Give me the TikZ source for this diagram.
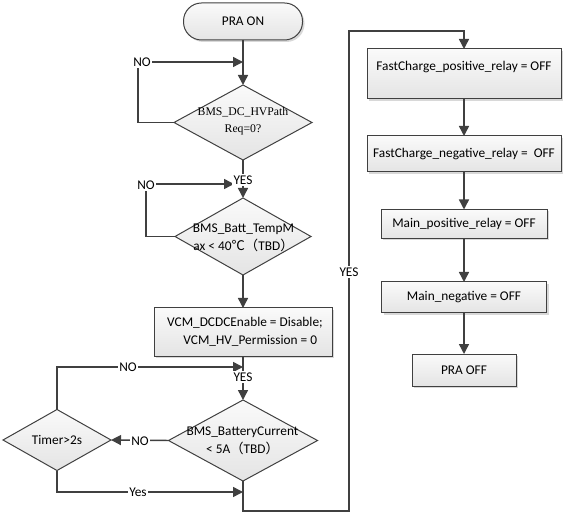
\documentclass[tikz,border=0pt]{standalone}
\usepackage{fontspec}
\setmainfont{Carlito}
\newfontfamily\seriffont{Liberation Serif}
\newfontfamily\cjkfont{Noto Sans CJK SC}
\usetikzlibrary{shapes.geometric,shadows,arrows.meta}
\definecolor{ln}{HTML}{404040}
\definecolor{ftop}{HTML}{FAFAFA}
\definecolor{fbot}{HTML}{E4E4E4}
\def\pxl{*0.75pt}
\begin{document}
\begin{tikzpicture}[x=0.75pt,y=-0.75pt,
  conn/.style={draw=ln, line width=1.1pt},
  arr/.style={conn, -{Triangle[length=7.5pt,width=7.5pt]}},
  shapebase/.style={draw=ln, line width=0.75pt, top color=ftop, bottom color=fbot, inner sep=0pt, outer sep=0pt},
  box/.style={shapebase, rectangle, drop shadow={shadow xshift=1.5pt, shadow yshift=-1.5pt, opacity=0.3}},
  term/.style={box, rounded corners=13.5pt},
  dia/.style={shapebase, diamond},
  txt/.style={font=\fontsize{10}{13.5}\selectfont, align=center, inner sep=0pt},
  stxt/.style={font=\seriffont\fontsize{8.8}{12.5}\selectfont, align=center, inner sep=0pt},
  lbl/.style={fill=white, inner sep=1pt, font=\fontsize{10}{11}\selectfont}
]
\useasboundingbox (0,0) rectangle (567,516);
\fill[white] (0,0) rectangle (567,516);

% nodes
\node[term, minimum width=119\pxl, minimum height=37\pxl] (t1) at (243,21.5) {};
\node[txt] at (t1) {PRA ON};

\node[dia, minimum width=138\pxl, minimum height=75\pxl] (d1) at (243,122.5) {};
\node[stxt] at (243,121.5) {BMS\_DC\_HVPath\\Req=0?};

\node[dia, minimum width=136\pxl, minimum height=77\pxl] (d2) at (243,236.5) {};
\node[txt] at (243.5,238) {BMS\_Batt\_TempM\\ax < 40{\cjkfont ℃（}TBD{\cjkfont ）}};

\node[box, minimum width=178\pxl, minimum height=48\pxl] (vcm) at (243,332) {};
\node[txt] at (245,332) {VCM\_DCDCEnable = Disable;\\\hspace*{8pt}VCM\_HV\_Permission = 0};

\node[dia, minimum width=149\pxl, minimum height=81\pxl] (d3) at (243,440.5) {};
\node[txt] at (242.5,441) {BMS\_BatteryCurrent\\< 5A{\cjkfont （}TBD{\cjkfont ）}};

\node[dia, minimum width=108\pxl, minimum height=61\pxl] (timer) at (57,440) {};
\node[txt] at (timer) {Timer>2s};

\node[box, minimum width=194\pxl, minimum height=50\pxl] (b1) at (464,74) {};
\node[txt] at (464,67) {FastCharge\_positive\_relay = OFF};

\node[box, minimum width=194\pxl, minimum height=36\pxl] (b2) at (464,154) {};
\node[txt] at (b2) {FastCharge\_negative\_relay =\ \ OFF};

\node[box, minimum width=166\pxl, minimum height=29\pxl] (b3) at (464,224) {};
\node[txt] at (b3) {Main\_positive\_relay = OFF};

\node[box, minimum width=165\pxl, minimum height=31\pxl] (b4) at (464,297.5) {};
\node[txt] at (b4) {Main\_negative = OFF};

\node[box, minimum width=104\pxl, minimum height=32\pxl] (b5) at (464,370) {};
\node[txt] at (b5) {PRA OFF};

% coordinates
\coordinate (c1) at (138,62);  \coordinate (j1) at (243,62);
\coordinate (c2) at (146,184); \coordinate (j2) at (234,184);
\coordinate (c3) at (57,367);  \coordinate (j3) at (243,367);
\coordinate (c4) at (57,492);  \coordinate (j4) at (243,492);
\coordinate (c5) at (243,511); \coordinate (c6) at (349,511);
\coordinate (c7) at (349,31);  \coordinate (c8) at (464,31);

% connectors
\draw[arr] (t1.south) -- (d1.north);
\draw[arr] (d1.west) -| (c1) -- (j1);
\draw[arr] (d1.south) -- (d2.north);
\draw[arr] (d2.west) -| (c2) -- (j2);
\draw[arr] (d2.south) -- (vcm.north);
\draw[arr] (vcm.south) -- (d3.north);
\draw[arr] (timer.north) -- (c3) -- (j3);
\draw[arr] (d3.west) -- (timer.east);
\draw[arr] (timer.south) -- (c4) -- (j4);
\draw[arr] (d3.south) -- (c5) -- (c6) -- (c7) -- (c8) -- (b1.north);
\draw[arr] (b1.south) -- (b2.north);
\draw[arr] (b2.south) -- (b3.north);
\draw[arr] (b3.south) -- (b4.north);
\draw[arr] (b4.south) -- (b5.north);

% labels
\node[lbl] at (142,62) {NO};
\node[lbl] at (243,180) {YES};
\node[lbl] at (146,185) {NO};
\node[lbl] at (243,377) {YES};
\node[lbl] at (128,367) {NO};
\node[lbl] at (140,441) {NO};
\node[lbl] at (138,492) {Yes};
\node[lbl] at (349,272) {YES};
\end{tikzpicture}
\end{document}
